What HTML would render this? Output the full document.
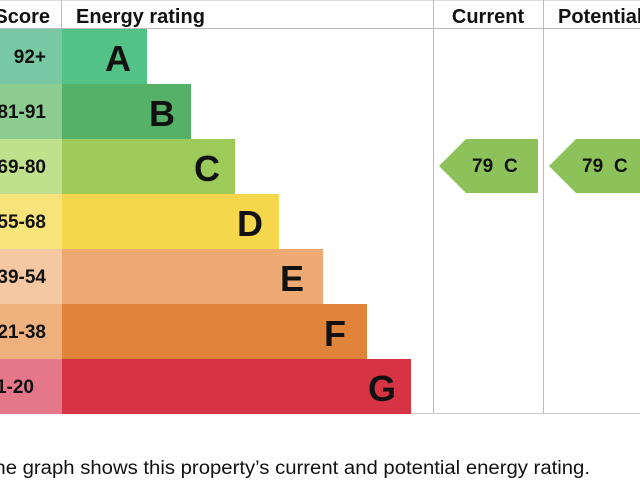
<!DOCTYPE html>
<html><head><style>
html,body{margin:0;padding:0;background:#fff;width:640px;height:480px;overflow:hidden}
svg text{font-family:"Liberation Sans",Arial,sans-serif}
</style></head><body>
<svg width="640" height="480" xmlns="http://www.w3.org/2000/svg">
<line x1="0" y1="28.5" x2="640" y2="28.5" stroke="#bbb" stroke-width="1"/>
<line x1="0" y1="0.5" x2="640" y2="0.5" stroke="#ddd" stroke-width="1"/>
<line x1="61.5" y1="0" x2="61.5" y2="29" stroke="#bbb"/>
<line x1="433.5" y1="0" x2="433.5" y2="414" stroke="#bbb"/>
<line x1="543.5" y1="0" x2="543.5" y2="414" stroke="#bbb"/>
<line x1="411" y1="413.5" x2="640" y2="413.5" stroke="#ccc"/>
<g font-weight="bold" font-size="20" fill="#111">
<text x="50" y="23" text-anchor="end">Score</text>
<text x="76" y="23">Energy rating</text>
<text x="488" y="23" text-anchor="middle">Current</text>
<text x="558" y="23">Potential</text>
</g>
<!-- score col -->
<rect x="0" y="29" width="62" height="55" fill="#78c8a4"/>
<rect x="0" y="84" width="62" height="55" fill="#8ccc90"/>
<rect x="0" y="139" width="62" height="55" fill="#bfe08c"/>
<rect x="0" y="194" width="62" height="55" fill="#f8e47a"/>
<rect x="0" y="249" width="62" height="55" fill="#f4c8a0"/>
<rect x="0" y="304" width="62" height="55" fill="#eeb07c"/>
<rect x="0" y="359" width="62" height="55" fill="#e4788a"/>
<!-- bars -->
<rect x="62" y="29" width="85" height="55" fill="#52c286"/>
<rect x="62" y="84" width="129" height="55" fill="#55b068"/>
<rect x="62" y="139" width="173" height="55" fill="#9dcb5a"/>
<rect x="62" y="194" width="217" height="55" fill="#f6d64a"/>
<rect x="62" y="249" width="261" height="55" fill="#eeaa72"/>
<rect x="62" y="304" width="305" height="55" fill="#e0843a"/>
<rect x="62" y="359" width="349" height="55" fill="#d63444"/>
<g font-weight="bold" font-size="19" fill="#111" text-anchor="end">
<text x="46" y="63">92+</text>
<text x="46" y="118">81-91</text>
<text x="46" y="173">69-80</text>
<text x="46" y="228">55-68</text>
<text x="46" y="283">39-54</text>
<text x="46" y="338">21-38</text>
<text x="34" y="393">1-20</text>
</g>
<g font-weight="bold" font-size="36" fill="#111" text-anchor="end">
<text x="131" y="71">A</text>
<text x="175" y="126">B</text>
<text x="220" y="181">C</text>
<text x="263" y="236">D</text>
<text x="304" y="291">E</text>
<text x="346" y="346">F</text>
<text x="396" y="401">G</text>
</g>
<polygon points="439,166 466,139 538,139 538,193 466,193" fill="#8dc25a"/>
<polygon points="549,166 576,139 648,139 648,193 576,193" fill="#8dc25a"/>
<g font-weight="bold" font-size="19" fill="#111">
<text x="472" y="172">79</text><text x="504" y="172">C</text>
<text x="582" y="172">79</text><text x="614" y="172">C</text>
</g>
<text x="-18" y="474" font-size="19" fill="#111" textLength="608" lengthAdjust="spacingAndGlyphs">The graph shows this property’s current and potential energy rating.</text>
</svg>
</body></html>
